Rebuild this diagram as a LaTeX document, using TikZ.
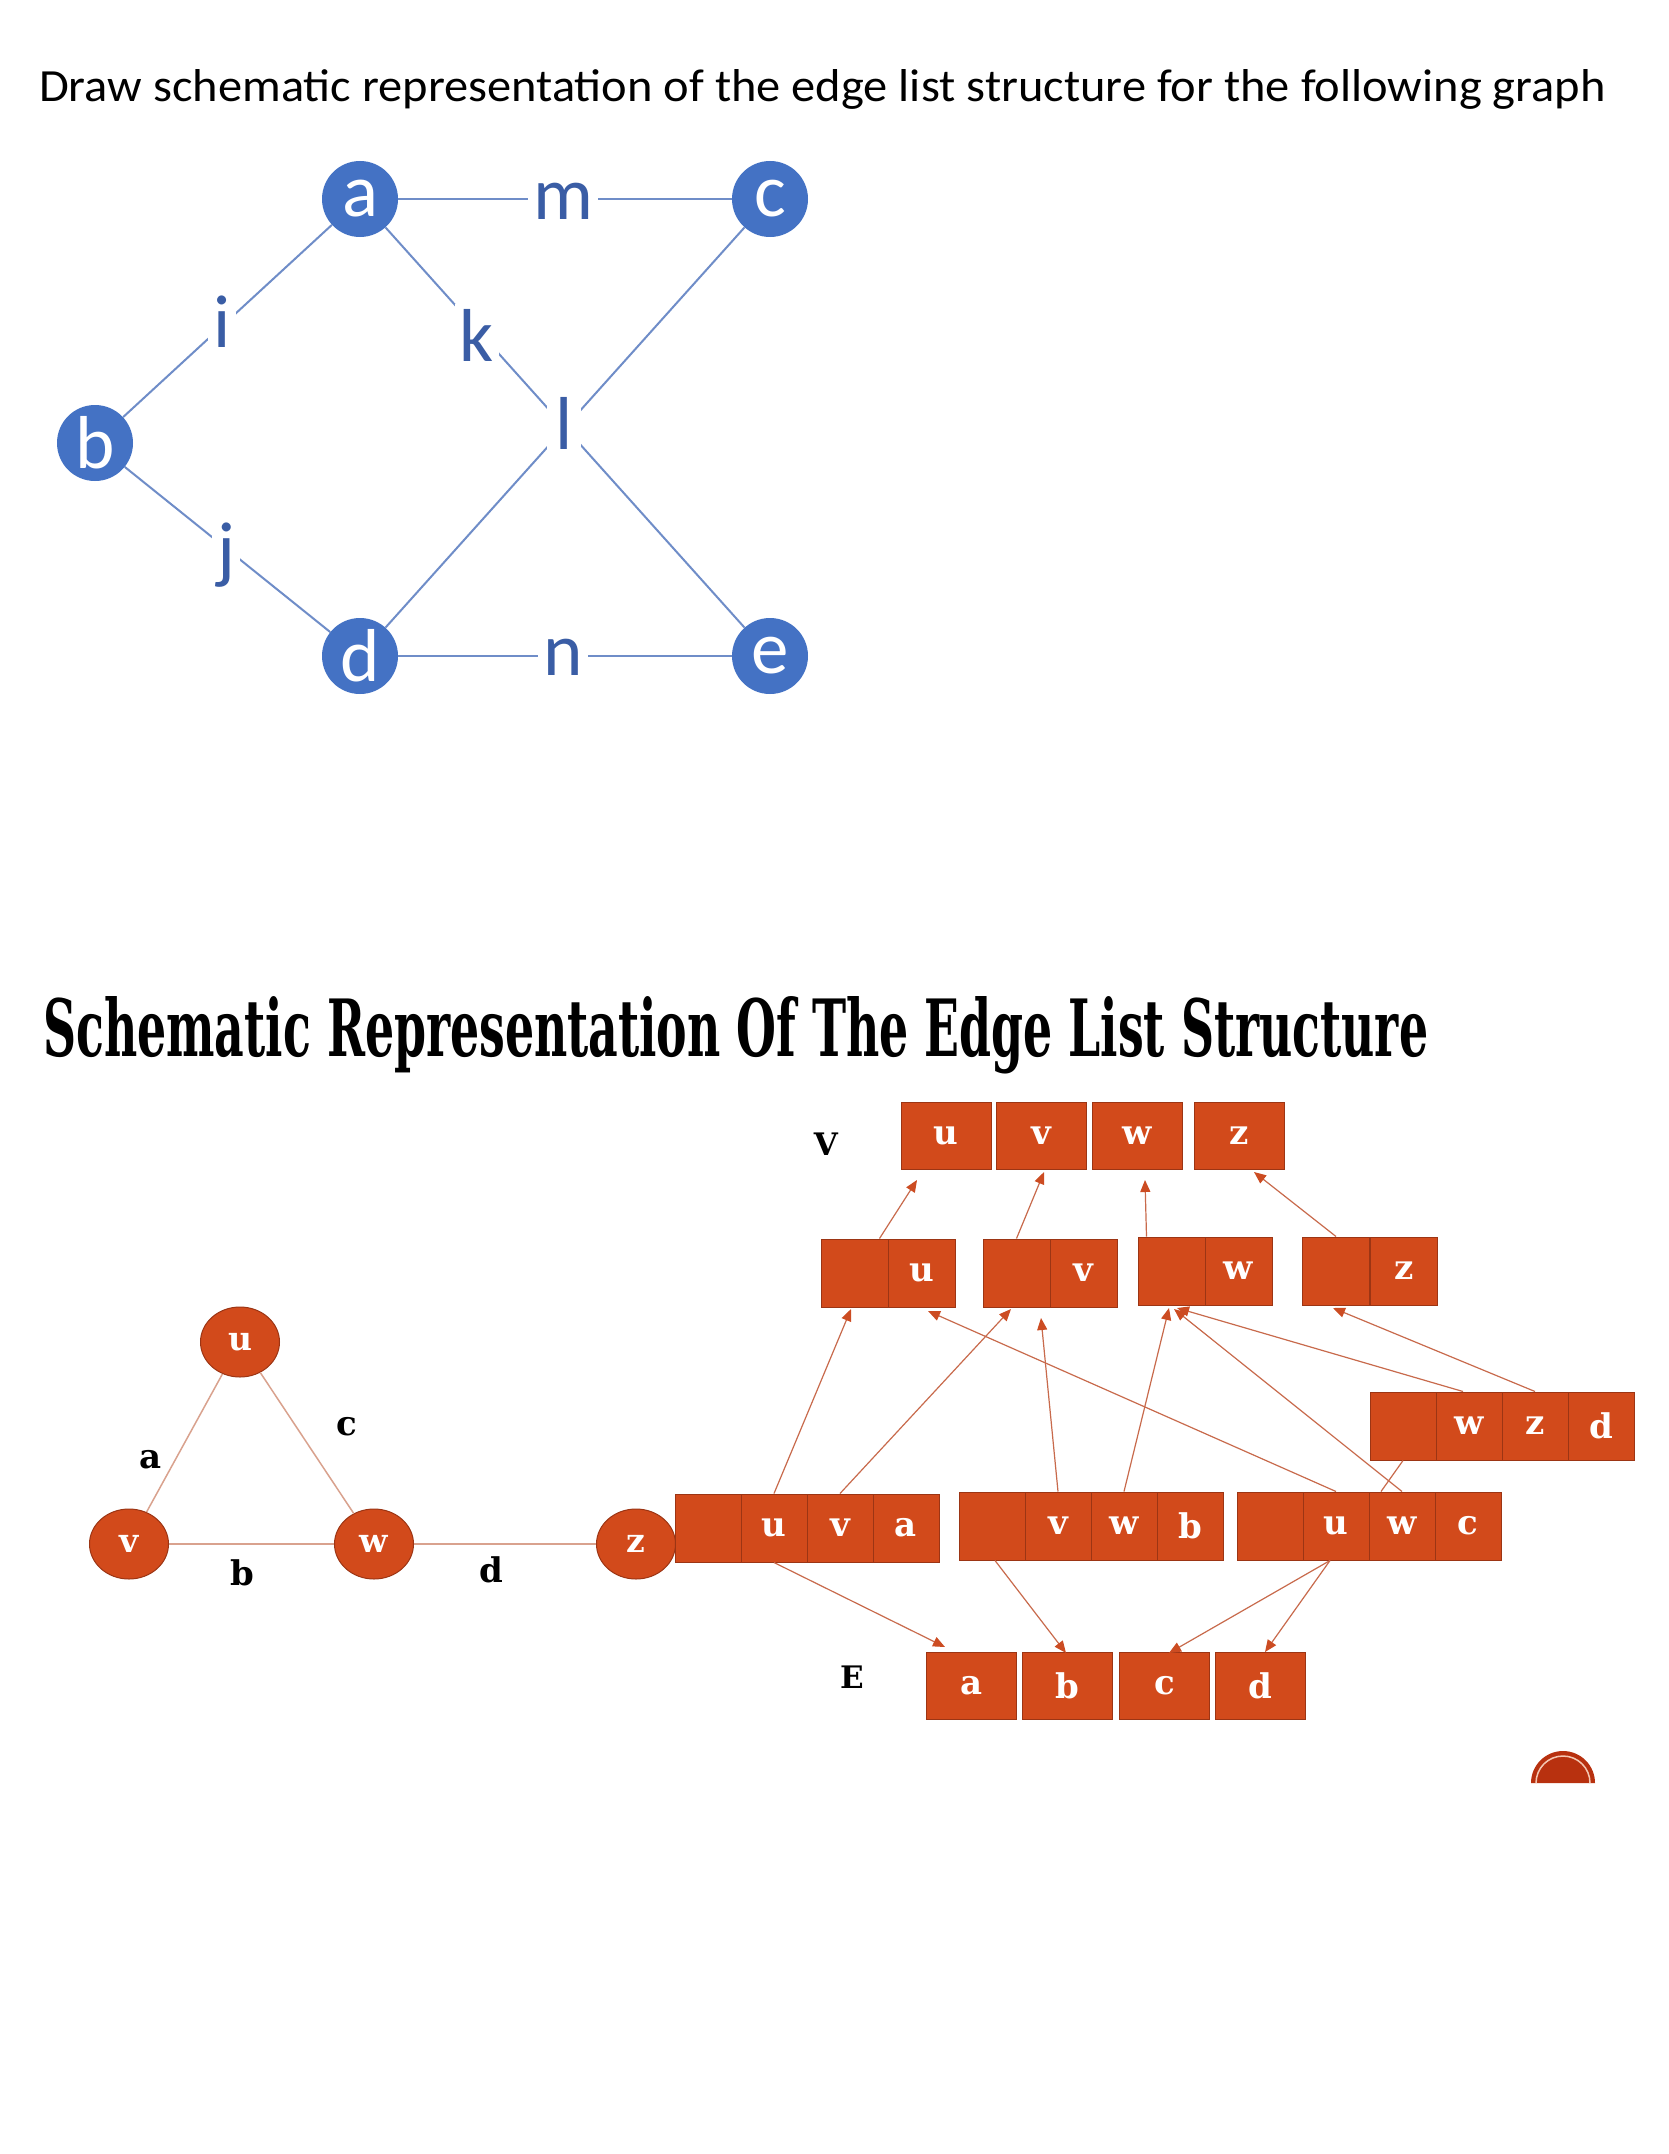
\documentclass[tikz,border=0pt]{standalone}
\usepackage{fontspec}
\newfontfamily\calib{Carlito}
\newfontfamily\slab{DejaVu Serif}
\usetikzlibrary{arrows.meta,shapes.geometric,calc}
\definecolor{gblue}{HTML}{4472C4}
\definecolor{gline}{HTML}{6F8DC8}
\definecolor{glab}{HTML}{3A5DA5}
\definecolor{ofill}{HTML}{D24A1B}
\definecolor{odraw}{HTML}{9C3514}
\definecolor{oarrow}{HTML}{C86A4C}
\definecolor{otip}{HTML}{CC4C22}
\definecolor{oedge}{HTML}{D9A28E}
\definecolor{semi}{HTML}{B8310F}
\definecolor{semiring}{HTML}{F4C7B2}
\begin{document}
\begin{tikzpicture}[x=1pt,y=-1pt,
  bnode/.style={circle, fill=gblue, minimum size=76pt, inner sep=0pt, text=white, font=\calib\fontsize{75}{75}\selectfont},
  bedge/.style={draw=gline, line width=2pt},
  blab/.style={fill=white, inner sep=5pt, text=glab, font=\calib\fontsize{75}{75}\selectfont},
  onode/.style={ellipse, fill=ofill, draw=odraw, line width=1pt, minimum width=79pt, minimum height=70pt, inner sep=0pt, text=white, font=\slab\bfseries\fontsize{33}{33}\selectfont},
  oedgeline/.style={draw=oedge, line width=1.5pt},
  olab/.style={inner sep=0pt, text=black, font=\slab\bfseries\fontsize{34}{34}\selectfont},
  cell/.style={rectangle, fill=ofill, draw=odraw, line width=1pt, inner sep=0pt, text=white, font=\slab\bfseries\fontsize{34}{34}\selectfont},
  cellv/.style={cell, minimum width=90pt, minimum height=67pt},
  cellt/.style={cell, minimum width=67pt, minimum height=68pt},
  cellf/.style={cell, minimum width=66pt, minimum height=68pt},
  arr/.style={draw=oarrow, line width=1.2pt, -{Triangle[length=12pt,width=10pt,color=otip]}},
  plain/.style={draw=oarrow, line width=1.2pt},
  rowlab/.style={inner sep=0pt, text=black, font=\slab\bfseries\fontsize{31}{31}\selectfont}
]
\fill[white] (0,0) rectangle (1668,2154);
\useasboundingbox (0,0) rectangle (1668,2154);

% ---------- title ----------
\node[anchor=base west, inner sep=0pt, text=black] (title) at (39,102)
  {\resizebox{1566pt}{32pt}{\calib Draw schematic representation of the edge list structure for the following graph}};

% ---------- top graph ----------
\node[bnode] (A) at (360,199) {a};
\node[bnode] (C) at (770,199) {c};
\node[bnode] (B) at (95,443) {b};
\node[bnode] (D) at (360,656) {d};
\node[bnode] (E) at (770,656) {e};
\draw[bedge] (A) -- (B);
\draw[bedge] (B) -- (D);
\draw[bedge] (A) -- (C);
\draw[bedge] (D) -- (E);
\draw[bedge] (A) -- (E);
\draw[bedge] (C) -- (D);
\node[blab] (li) at (222,322) {i};
\node[blab] (lj) at (226,555) {j};
\node[blab] (lm) at (563,201) {m};
\node[blab] (lk) at (477,335) {k};
\node[blab, inner xsep=8pt] (ll) at (564,423) {l};
\node[blab] (ln) at (563,657) {n};

% ---------- second title ----------
\node[anchor=base west, inner sep=0pt, text=black] (title2) at (43,1056)
  {\resizebox{1385pt}{60pt}{\slab\bfseries Schematic Representation Of The Edge List Structure}};

% ---------- bottom-left graph ----------
\node[onode] (gu) at (240,1342) {u};
\node[onode] (gv) at (129,1544) {v};
\node[onode] (gw) at (374,1544) {w};
\node[onode] (gz) at (636,1544) {z};
\draw[oedgeline] (gu) -- (gv);
\draw[oedgeline] (gu) -- (gw);
\draw[oedgeline] (gv) -- (gw);
\draw[oedgeline] (gw) -- (gz);
\node[olab] (la) at (151,1460) {a};
\node[olab] (lc) at (347,1427) {c};
\node[olab] (lb) at (242,1573) {b};
\node[olab] (ld) at (491,1570) {d};

% ---------- V row ----------
\node[rowlab] (Vlab) at (826,1144) {V};
\node[cellv] (V1) at (946,1136) {u};
\node[cellv] (V2) at (1041,1136) {v};
\node[cellv] (V3) at (1137,1136) {w};
\node[cellv] (V4) at (1239,1136) {z};

% ---------- vertex positions ----------
\node[cellt] (P1a) at (854.5,1273) {};
\node[cellt] (P1b) at (921.5,1273) {u};
\node[cellt] (P2a) at (1016.5,1273) {};
\node[cellt] (P2b) at (1083.5,1273) {v};
\node[cellt] (P3a) at (1171.5,1271) {};
\node[cellt] (P3b) at (1238.5,1271) {w};
\node[cellt] (P4a) at (1336,1271) {};
\node[cellt] (P4b) at (1404,1271) {z};

% ---------- edge positions ----------
\node[cellf] (Ea0) at (708,1528) {};
\node[cellf] (Ea1) at (774,1528) {u};
\node[cellf] (Ea2) at (840,1528) {v};
\node[cellf] (Ea3) at (906,1528) {a};
\node[cellf] (Eb0) at (992,1526) {};
\node[cellf] (Eb1) at (1058,1526) {v};
\node[cellf] (Eb2) at (1124,1526) {w};
\node[cellf] (Eb3) at (1190,1526) {b};
\node[cellf] (Ec0) at (1270,1526) {};
\node[cellf] (Ec1) at (1336,1526) {u};
\node[cellf] (Ec2) at (1402,1526) {w};
\node[cellf] (Ec3) at (1468,1526) {c};
\node[cellf] (Ed0) at (1403,1426) {};
\node[cellf] (Ed1) at (1469,1426) {w};
\node[cellf] (Ed2) at (1535,1426) {z};
\node[cellf] (Ed3) at (1601,1426) {d};

% ---------- E row ----------
\node[rowlab] (Elab) at (852,1677) {E};
\node[cellv] (X1) at (971.5,1686) {a};
\node[cellv] (X2) at (1067,1686) {b};
\node[cellv] (X3) at (1164.5,1686) {c};
\node[cellv] (X4) at (1260.5,1686) {d};

% ---------- arrow tips ----------
\coordinate (t1) at (917,1180);
\coordinate (t2) at (1044,1172);
\coordinate (t3) at (1145,1180);
\coordinate (t4) at (1254,1172);
\coordinate (t5) at (851,1309);
\coordinate (t6) at (1011,1309);
\coordinate (t7) at (1041,1318);
\coordinate (t8) at (1169,1308);
\coordinate (t9) at (928,1311);
\coordinate (t10) at (1174,1309);
\coordinate (t11) at (1177,1308);
\coordinate (t12) at (1333,1308);
\coordinate (t14) at (945,1647);
\coordinate (t15) at (1066,1653);
\coordinate (t16) at (1169,1653);
\coordinate (t17) at (1265,1652);

% ---------- arrows ----------
\draw[arr] ($(P1a.north)+(25,0)$) -- (t1);
\draw[arr] (P2a.north) -- (t2);
\draw[arr] ($(P3a.north)+(-25,0)$) -- (t3);
\draw[arr] (P4a.north) -- (t4);

\draw[arr] (Ea1.north) -- (t5);
\draw[arr] (Ea2.north) -- (t6);
\draw[arr] (Eb1.north) -- (t7);
\draw[arr] (Eb2.north) -- (t8);
\draw[arr] (Ec1.north) -- (t9);
\draw[arr] (Ec2.north) -- (t10);
\draw[arr] ($(Ed1.north)+(-6,0)$) -- (t11);
\draw[arr] (Ed2.north) -- (t12);
\draw[plain] ($(Ec2.north)+(-21,0)$) -- (Ed0.south);

\draw[arr] (Ea1.south) -- (t14);
\draw[arr] ($(Eb0.south)+(3,0)$) -- (t15);
\draw[arr] ($(Ec1.south)+(-6,0)$) -- (t16);
\draw[arr] ($(Ec1.south)+(-6,0)$) -- (t17);

% ---------- logo fragment ----------
\fill[semi] (1531,1783) arc[start angle=180, end angle=360, radius=32] -- cycle;
\draw[semiring, line width=1.5pt] (1536,1783) arc[start angle=180, end angle=360, radius=27];
\end{tikzpicture}
\end{document}
